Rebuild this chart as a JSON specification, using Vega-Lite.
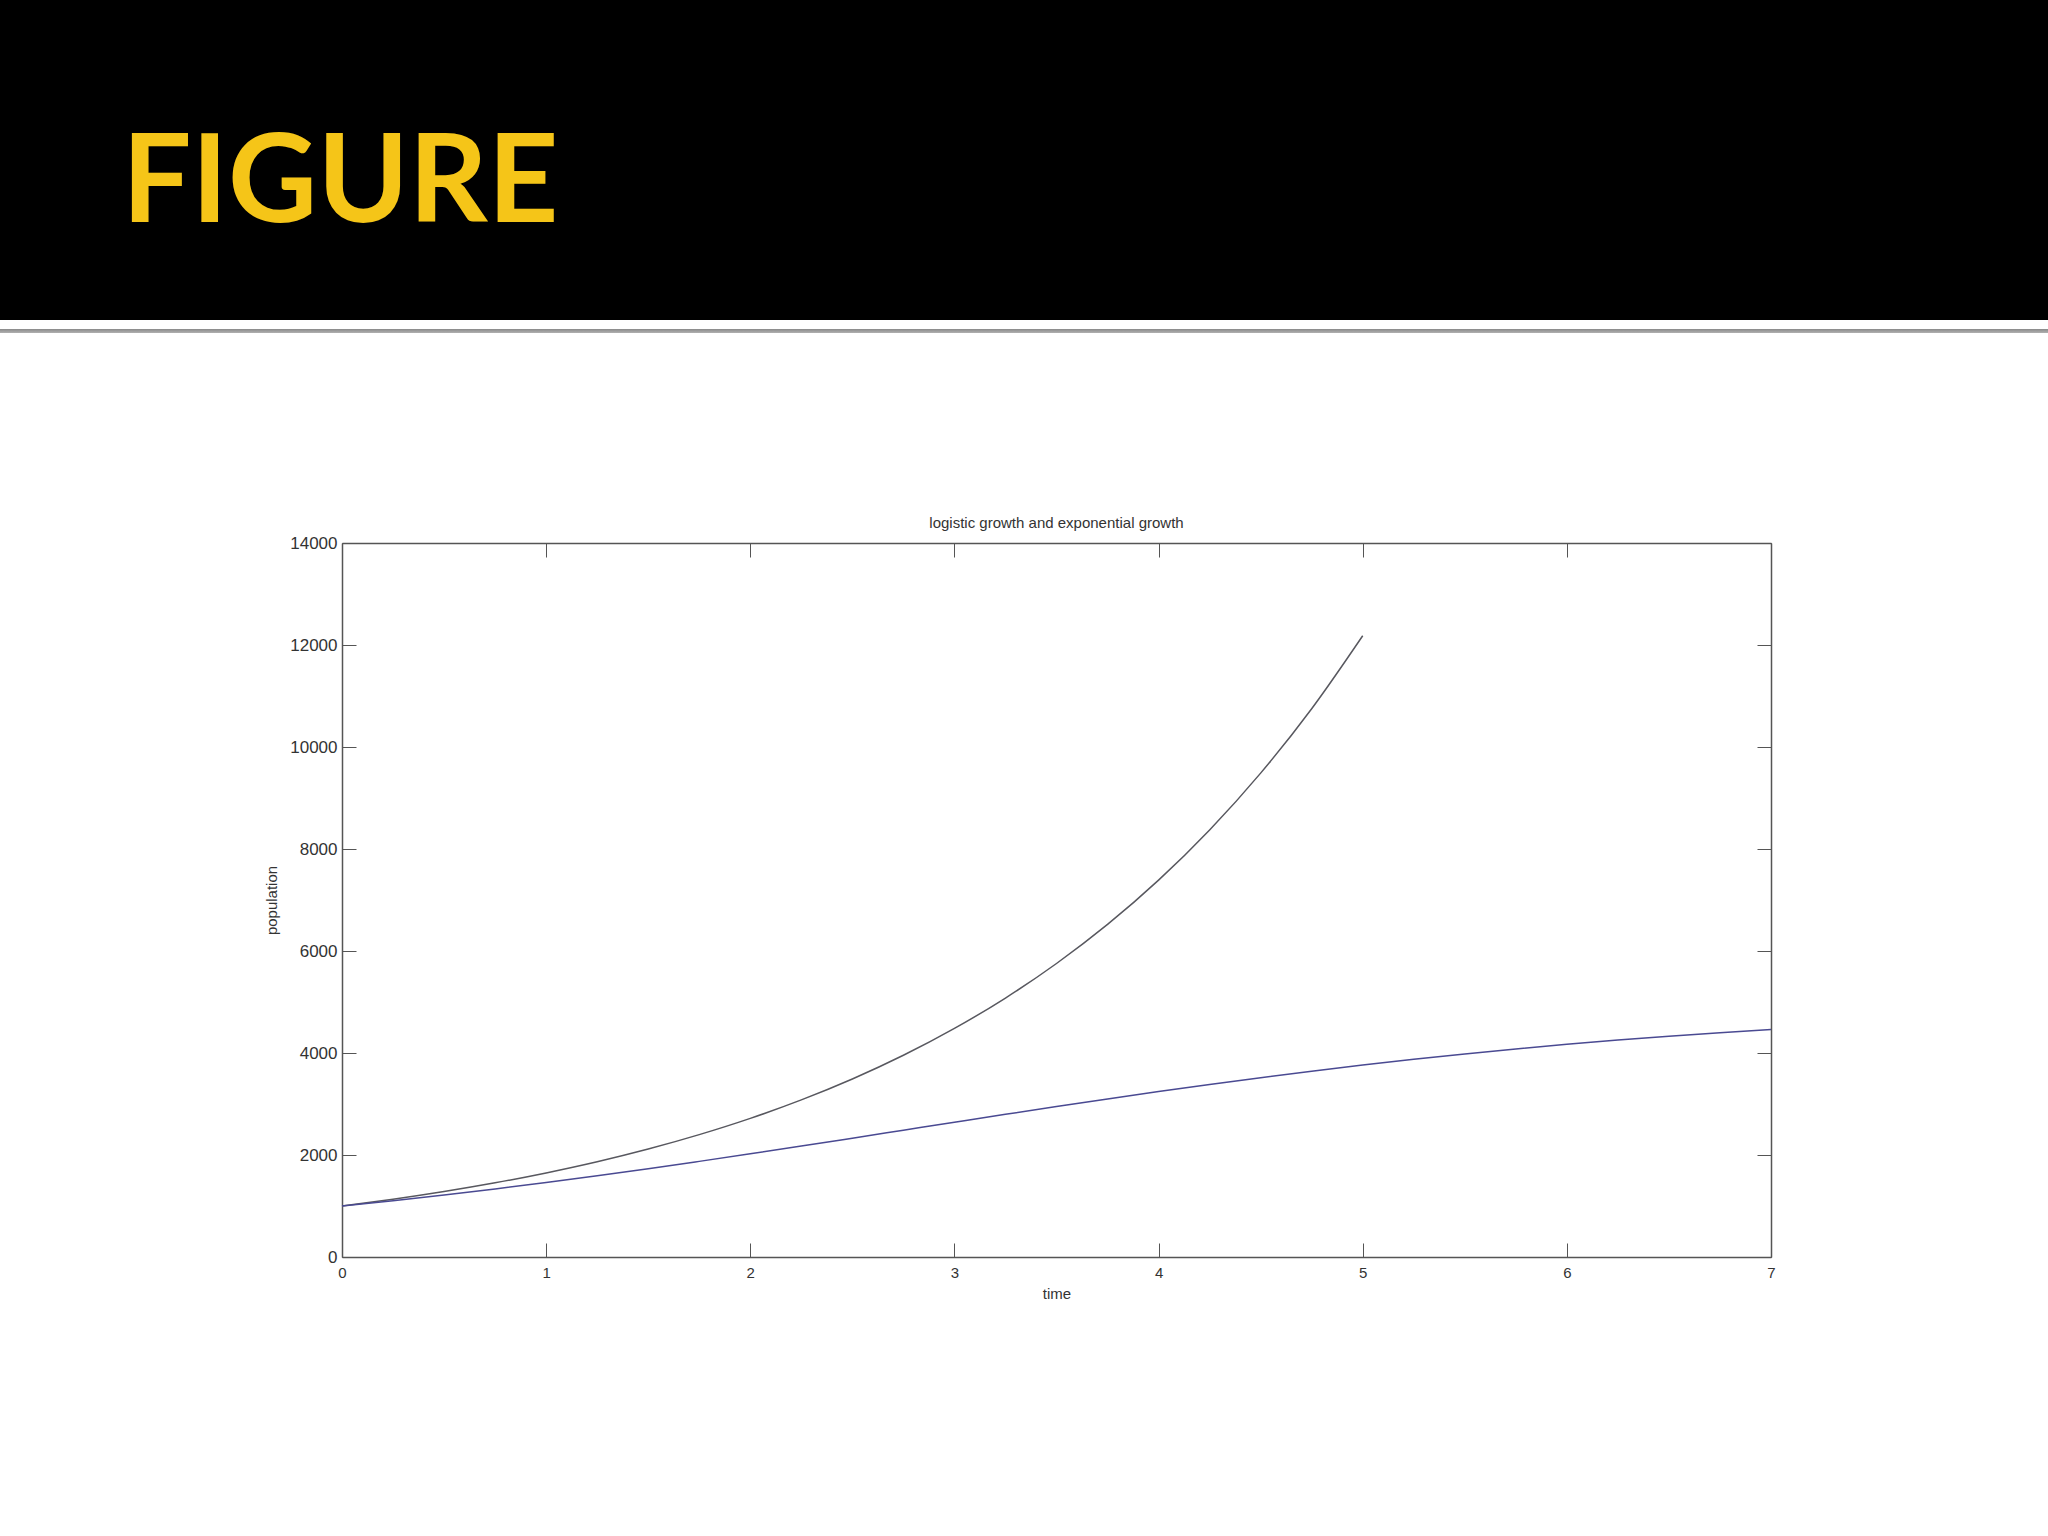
{
  "$schema": "https://vega.github.io/schema/vega-lite/v6.json",
  "background": "white",
  "padding": 0,
  "bounds": "flush",
  "spacing": 210,
  "config": {
    "view": {"stroke": null},
    "font": "Liberation Sans"
  },
  "datasets": {
    "growth": [
      {"time": 0, "population": 1000, "series": "exponential"},
      {"time": 0.25, "population": 1133, "series": "exponential"},
      {"time": 0.5, "population": 1284, "series": "exponential"},
      {"time": 0.75, "population": 1455, "series": "exponential"},
      {"time": 1, "population": 1649, "series": "exponential"},
      {"time": 1.25, "population": 1868, "series": "exponential"},
      {"time": 1.5, "population": 2117, "series": "exponential"},
      {"time": 1.75, "population": 2399, "series": "exponential"},
      {"time": 2, "population": 2718, "series": "exponential"},
      {"time": 2.25, "population": 3080, "series": "exponential"},
      {"time": 2.5, "population": 3490, "series": "exponential"},
      {"time": 2.75, "population": 3955, "series": "exponential"},
      {"time": 3, "population": 4482, "series": "exponential"},
      {"time": 3.25, "population": 5078, "series": "exponential"},
      {"time": 3.5, "population": 5755, "series": "exponential"},
      {"time": 3.75, "population": 6521, "series": "exponential"},
      {"time": 4, "population": 7389, "series": "exponential"},
      {"time": 4.25, "population": 8373, "series": "exponential"},
      {"time": 4.5, "population": 9488, "series": "exponential"},
      {"time": 4.75, "population": 10751, "series": "exponential"},
      {"time": 5, "population": 12182, "series": "exponential"},
      {"time": 0, "population": 1000, "series": "logistic"},
      {"time": 0.25, "population": 1104, "series": "logistic"},
      {"time": 0.5, "population": 1215, "series": "logistic"},
      {"time": 0.75, "population": 1334, "series": "logistic"},
      {"time": 1, "population": 1459, "series": "logistic"},
      {"time": 1.25, "population": 1592, "series": "logistic"},
      {"time": 1.5, "population": 1730, "series": "logistic"},
      {"time": 1.75, "population": 1875, "series": "logistic"},
      {"time": 2, "population": 2023, "series": "logistic"},
      {"time": 2.25, "population": 2175, "series": "logistic"},
      {"time": 2.5, "population": 2330, "series": "logistic"},
      {"time": 2.75, "population": 2486, "series": "logistic"},
      {"time": 3, "population": 2642, "series": "logistic"},
      {"time": 3.25, "population": 2797, "series": "logistic"},
      {"time": 3.5, "population": 2950, "series": "logistic"},
      {"time": 3.75, "population": 3099, "series": "logistic"},
      {"time": 4, "population": 3244, "series": "logistic"},
      {"time": 4.25, "population": 3384, "series": "logistic"},
      {"time": 4.5, "population": 3517, "series": "logistic"},
      {"time": 4.75, "population": 3644, "series": "logistic"},
      {"time": 5, "population": 3764, "series": "logistic"},
      {"time": 5.25, "population": 3877, "series": "logistic"},
      {"time": 5.5, "population": 3982, "series": "logistic"},
      {"time": 5.75, "population": 4079, "series": "logistic"},
      {"time": 6, "population": 4170, "series": "logistic"},
      {"time": 6.25, "population": 4253, "series": "logistic"},
      {"time": 6.5, "population": 4329, "series": "logistic"},
      {"time": 6.75, "population": 4398, "series": "logistic"},
      {"time": 7, "population": 4461, "series": "logistic"}
    ]
  },
  "vconcat": [
    {
      "width": 2048,
      "height": 333,
      "view": {
        "stroke": null,
        "fill": {
          "gradient": "linear",
          "x1": 0, "y1": 0, "x2": 0, "y2": 1,
          "stops": [
            {"offset": 0, "color": "#000000"},
            {"offset": 0.9605, "color": "#000000"},
            {"offset": 0.9606, "color": "#ffffff"},
            {"offset": 0.988, "color": "#ffffff"},
            {"offset": 0.9881, "color": "#8a8a8a"},
            {"offset": 1, "color": "#b0b0b0"}
          ]
        }
      },
      "title": {
        "text": "FIGURE",
        "anchor": "start",
        "frame": "group",
        "orient": "top",
        "dx": 122,
        "offset": -345,
        "baseline": "alphabetic",
        "font": "Lato",
        "fontWeight": "bold",
        "fontSize": 123,
        "color": "#F5C518"
      },
      "data": {"values": []},
      "mark": "rect",
      "encoding": {}
    },
    {
      "bounds": "flush",
      "spacing": 0,
      "hconcat": [
        {
          "width": 342,
          "height": 993,
          "data": {"values": []},
          "mark": "rect",
          "encoding": {}
        },
        {
          "width": 1429,
          "height": 714,
          "data": {"name": "growth"},
          "title": {
            "text": "logistic growth and exponential growth",
            "fontSize": 15,
            "fontWeight": "normal",
            "color": "#333333",
            "offset": 3,
            "font": "Liberation Sans"
          },
          "resolve": {"axis": {"x": "independent", "y": "independent"}},
          "layer": [
            {
              "mark": {"type": "line", "strokeWidth": 1.5, "interpolate": "monotone"},
              "encoding": {
                "x": {
                  "field": "time", "type": "quantitative",
                  "scale": {"domain": [0, 7], "nice": false, "zero": false},
                  "axis": {
                    "orient": "bottom", "title": "time", "values": [0,1,2,3,4,5,6,7],
                    "grid": false, "tickSize": -14, "labelPadding": 22, "labelFlush": false,
                    "domainColor": "#555555", "tickColor": "#555555", "domainWidth": 1.5,
                    "labelFontSize": 15, "labelColor": "#333333", "labelFont": "Liberation Sans",
                    "titleFontSize": 15, "titleFontWeight": "normal", "titleColor": "#333333", "titlePadding": 6
                  }
                },
                "y": {
                  "field": "population", "type": "quantitative",
                  "scale": {"domain": [0, 14000], "nice": false},
                  "axis": {
                    "orient": "left", "title": "population", "values": [0,2000,4000,6000,8000,10000,12000,14000],
                    "format": "d", "grid": false, "tickSize": -14, "labelPadding": 19, "labelFlush": false,
                    "domainColor": "#555555", "tickColor": "#555555", "domainWidth": 1.5,
                    "labelFontSize": 17, "labelColor": "#333333", "labelFont": "Liberation Sans",
                    "titleFontSize": 15, "titleFontWeight": "normal", "titleColor": "#333333", "titlePadding": 10
                  }
                },
                "color": {
                  "field": "series", "type": "nominal",
                  "scale": {"domain": ["exponential", "logistic"], "range": ["#58585f", "#4a4a92"]},
                  "legend": null
                }
              }
            },
            {
              "mark": {"type": "line", "opacity": 0},
              "encoding": {
                "x": {
                  "field": "time", "type": "quantitative",
                  "axis": {
                    "orient": "top", "title": null, "labels": false, "values": [0,1,2,3,4,5,6,7],
                    "grid": false, "tickSize": -14,
                    "domainColor": "#555555", "tickColor": "#555555", "domainWidth": 1.5
                  }
                },
                "y": {
                  "field": "population", "type": "quantitative",
                  "axis": {
                    "orient": "right", "title": null, "labels": false, "values": [0,2000,4000,6000,8000,10000,12000,14000],
                    "grid": false, "tickSize": -14,
                    "domainColor": "#555555", "tickColor": "#555555", "domainWidth": 1.5
                  }
                },
                "detail": {"field": "series", "type": "nominal"}
              }
            }
          ]
        },
        {
          "width": 277,
          "height": 993,
          "data": {"values": []},
          "mark": "rect",
          "encoding": {}
        }
      ]
    }
  ]
}
